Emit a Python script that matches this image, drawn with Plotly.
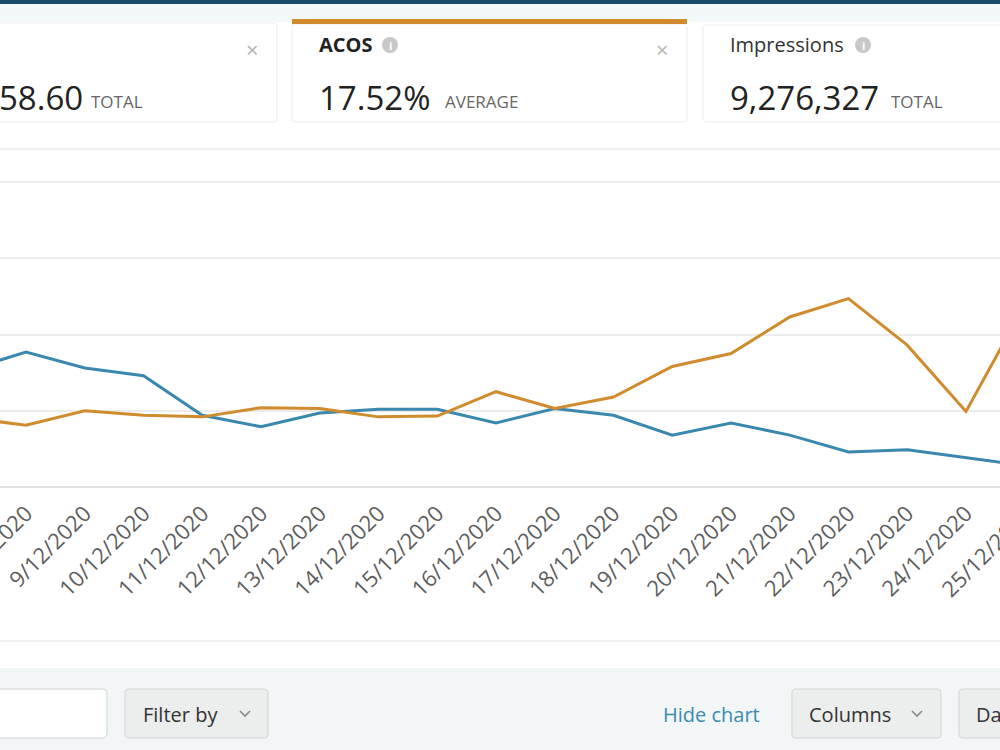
import plotly.graph_objects as go

# ---------------- data ----------------
dates = ["7/12/2020", "8/12/2020", "9/12/2020", "10/12/2020", "11/12/2020",
         "12/12/2020", "13/12/2020", "14/12/2020", "15/12/2020", "16/12/2020",
         "17/12/2020", "18/12/2020", "19/12/2020", "20/12/2020", "21/12/2020",
         "22/12/2020", "23/12/2020", "24/12/2020", "25/12/2020"]
spend = [153, 177, 156, 146, 94, 79, 97, 102, 102, 84, 103, 94, 68, 84, 68,
         46, 49, 38, 28]
acos = [9.1, 8.1, 10.0, 9.4, 9.2, 10.4, 10.3, 9.2, 9.3, 12.5, 10.3, 11.8,
        15.8, 17.5, 22.3, 24.7, 18.6, 9.9, 23.9]

card_titles = ["ACOS", "Impressions"]
card_values = ["58.60", "17.52%", "9,276,327"]
card_units = ["TOTAL", "AVERAGE", "TOTAL"]
buttons = ["Filter by", "Columns", "Da"]
link_text = "Hide chart"

BLUE = "#3a88ad"
ORANGE = "#cf8b2e"
FONT = "Open Sans"
TICK_SIZE = 22
TICK_COLOR = "#5e5e5e"

# ---------------- pixel helpers ----------------
PT, PB = 150, 487
H = PB - PT


def X(px):
    return px / 1000.0


def Y(py):
    return (PB - py) / H


def rr_path(x0, y0, x1, y1, r):
    pts = [("M", (x0 + r, y0)), ("L", (x1 - r, y0)), ("Q", (x1, y0), (x1, y0 + r)),
           ("L", (x1, y1 - r)), ("Q", (x1, y1), (x1 - r, y1)), ("L", (x0 + r, y1)),
           ("Q", (x0, y1), (x0, y1 - r)), ("L", (x0, y0 + r)), ("Q", (x0, y0), (x0 + r, y0))]
    s = ""
    for p in pts:
        s += p[0] + " " + " ".join(f"{X(a):.5f},{Y(b):.5f}" for a, b in p[1:]) + " "
    return s + "Z"


shapes = []
annotations = []


def rect(x0, y0, x1, y1, fill, line="rgba(0,0,0,0)", lw=0, layer="below"):
    shapes.append(dict(type="rect", xref="paper", yref="paper", x0=X(x0), x1=X(x1),
                       y0=Y(y1), y1=Y(y0), fillcolor=fill,
                       line=dict(color=line, width=lw), layer=layer))


def rrect(x0, y0, x1, y1, r, fill, line="rgba(0,0,0,0)", lw=0, layer="below"):
    shapes.append(dict(type="path", xref="paper", yref="paper", path=rr_path(x0, y0, x1, y1, r),
                       fillcolor=fill, line=dict(color=line, width=lw), layer=layer))


def hline(x0, x1, y, color, w):
    shapes.append(dict(type="line", xref="paper", yref="paper", x0=X(x0), x1=X(x1),
                       y0=Y(y), y1=Y(y), line=dict(color=color, width=w), layer="below"))


def text(x, y, s, size, color="#222", anchor="left", bold=False, family=FONT, angle=0):
    if bold:
        s = "<b>" + s + "</b>"
    annotations.append(dict(xref="paper", yref="paper", x=X(x), y=Y(y), text=s,
                            showarrow=False, xanchor=anchor, yanchor="middle",
                            textangle=angle,
                            font=dict(family=family, size=size, color=color)))


def chevron(cx, cy, color="#8a8a8a"):
    p = f"M {X(cx-5):.5f},{Y(cy-2):.5f} L {X(cx):.5f},{Y(cy+3):.5f} L {X(cx+5):.5f},{Y(cy-2):.5f}"
    shapes.append(dict(type="path", xref="paper", yref="paper", path=p,
                       line=dict(color=color, width=1.6)))


def info_icon(cx, cy):
    shapes.append(dict(type="circle", xref="paper", yref="paper", x0=X(cx - 8), x1=X(cx + 8),
                       y0=Y(cy + 8), y1=Y(cy - 8), fillcolor="#c8c8c8",
                       line=dict(color="#c8c8c8", width=0)))
    text(cx, cy, "i", 11, "white", anchor="center", bold=True)


# ---------------- top header area ----------------
rect(0, 0, 1000, 4, "#1c4b69")
rect(0, 4, 1000, 22, "#f3f8fa")
# cards
rrect(-10, 23, 277, 122, 4, "white", "#ececec", 1)
rect(292, 19, 687, 24, ORANGE, layer="above")
rrect(292, 24, 687, 122, 3, "white", "#ececec", 1)
rrect(703, 25, 1015, 122, 4, "white", "#ececec", 1)

text(252, 49, "×", 22, "#b5b5b5", anchor="center")
text(662, 49, "×", 22, "#b5b5b5", anchor="center")

text(-3, 97, card_values[0], 33, "#222")
text(89, 102, card_units[0], 17, "#666")

text(317, 44, card_titles[0], 20, "#222", bold=True)
info_icon(390, 45)
text(317, 97, card_values[1], 33, "#222")
text(443, 102, card_units[1], 17, "#666")

text(728, 44, card_titles[1], 20, "#333")
info_icon(863, 45)
text(728, 97, card_values[2], 33, "#222")
text(889, 102, card_units[2], 17, "#666")

# chart container borders
hline(0, 1000, 149, "#efefef", 2)
hline(0, 1000, 487, "#e2e2e2", 2)
hline(0, 1000, 641, "#efefef", 2)

# tick label of the last, partly visible date (outside the axis range)
text(986, 551, dates[-1], TICK_SIZE, TICK_COLOR, anchor="center", angle=-45)

# ---------------- bottom toolbar ----------------
rect(0, 668, 1000, 750, "#f2f6f6")
rrect(-10, 689, 107, 738, 5, "white", "#cfd4d4", 1)
rrect(125, 689, 268, 738, 4, "#eceeee", "#cfd3d3", 1)
text(141, 714, buttons[0], 20, "#333")
chevron(245, 713)
text(661, 714, link_text, 20, "#3a8bb0")
rrect(792, 689, 941, 738, 4, "#eceeee", "#cfd3d3", 1)
text(807, 714, buttons[1], 20, "#333")
chevron(917, 713)
rrect(959, 689, 1030, 738, 4, "#eceeee", "#cfd3d3", 1)
text(974, 714, buttons[2], 20, "#333")

# ---------------- figure ----------------
fig = go.Figure()
fig.add_trace(go.Scatter(x=dates, y=spend, mode="lines", name="Spend",
                         line=dict(color=BLUE, width=3), yaxis="y"))
fig.add_trace(go.Scatter(x=dates, y=acos, mode="lines", name="ACOS",
                         line=dict(color=ORANGE, width=3), yaxis="y2"))

fig.update_layout(
    width=1000, height=750, autosize=False,
    margin=dict(l=0, r=0, t=PT, b=750 - PB, pad=0),
    paper_bgcolor="white", plot_bgcolor="white",
    showlegend=False,
    font=dict(family=FONT),
    xaxis=dict(type="category", categoryorder="array", categoryarray=dates,
               range=[0.557, 17.579], tickangle=-45, showgrid=False, showline=False,
               zeroline=False, ticks="outside", ticklen=4, tickcolor="rgba(0,0,0,0)",
               tickfont=dict(family=FONT, size=TICK_SIZE, color=TICK_COLOR),
               automargin=False, fixedrange=True),
    yaxis=dict(range=[0, 442], tickvals=[100, 200, 300, 400], showticklabels=False,
               gridcolor="#ececec", gridwidth=1.5, zeroline=False, showline=False,
               automargin=False, fixedrange=True),
    yaxis2=dict(range=[0, 44.2], overlaying="y", showgrid=False, showticklabels=False,
                zeroline=False, showline=False, automargin=False, fixedrange=True),
    shapes=shapes,
    annotations=annotations,
)

fig.write_html("out.html")
